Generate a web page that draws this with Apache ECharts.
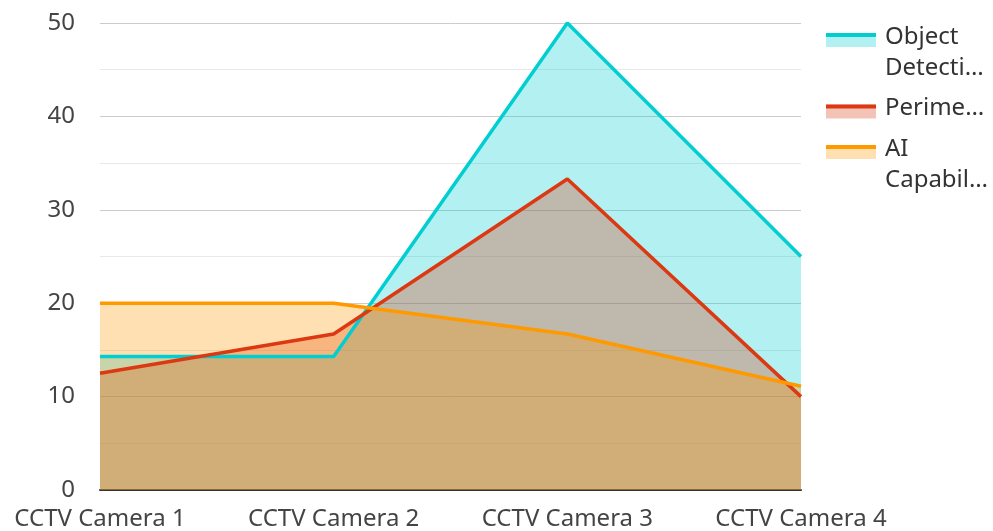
<!DOCTYPE html>
<html>
<head>
<meta charset="utf-8">
<script src="https://cdn.jsdelivr.net/npm/echarts@6/dist/echarts.min.js"></script>
<style>html,body{margin:0;padding:0;background:#fff;}#c{width:993px;height:531px;}</style>
</head>
<body>
<div id="c"></div>
<script>
const categories = ['CCTV Camera 1', 'CCTV Camera 2', 'CCTV Camera 3', 'CCTV Camera 4'];
const seriesNames = ['Object Detection', 'Perimeter Intrusion', 'AI Capabilities'];
const legendLabels = ['Object\nDetecti…', 'Perime…', 'AI\nCapabil…'];
const objectDetection = [14.3, 14.3, 50, 25];
const perimeterIntrusion = [12.5, 16.7, 33.3, 10];
const aiCapabilities = [20, 20, 16.7, 11.1];
const yTicks = [0, 10, 20, 30, 40, 50];

const colors = ['#00ced1', '#dc3912', '#ff9900'];
const fills = ['rgba(0,206,209,0.3)', 'rgba(220,57,18,0.3)', 'rgba(255,153,0,0.3)'];
const values = [objectDetection, perimeterIntrusion, aiCapabilities];
const FONT = 'Noto Sans';

const labelMap = {};
seriesNames.forEach((n, i) => { labelMap[n] = legendLabels[i]; });

// icon paths: box 50x45; two-line items have icon near top, one-line item centred
const fillIcon2 = 'path://M0,3H50V17H0Z M0,0L50,0 M0,45L50,45';
const fillIcon1 = 'path://M0,18.5H50V32.5H0Z M0,0L50,0 M0,45L50,45';
const lineIcon2 = 'path://M0,3H50V7H0Z M0,0L50,0 M0,45L50,45';
const lineIcon1 = 'path://M0,18.5H50V22.5H0Z M0,0L50,0 M0,45L50,45';

function legendBase(textColor) {
  return {
    orient: 'vertical',
    left: 826,
    top: 21.5,
    padding: 0,
    itemGap: 2.5,
    itemWidth: 50,
    itemHeight: 45,
    formatter: name => labelMap[name],
    textStyle: { fontFamily: FONT, fontSize: 24, lineHeight: 31, color: textColor, padding: [0, 0, 0, 4] }
  };
}

const legendA = Object.assign(legendBase('#333333'), {
  data: seriesNames.map((n, i) => ({
    name: n,
    icon: legendLabels[i].indexOf('\n') >= 0 ? fillIcon2 : fillIcon1,
    itemStyle: { color: fills[i], borderWidth: 0 }
  }))
});
const legendB = Object.assign(legendBase('rgba(0,0,0,0)'), {
  data: seriesNames.map((n, i) => ({
    name: n,
    icon: legendLabels[i].indexOf('\n') >= 0 ? lineIcon2 : lineIcon1,
    itemStyle: { color: colors[i], borderWidth: 0 }
  }))
});

const option = {
  animation: false,
  backgroundColor: '#ffffff',
  color: colors,
  grid: { left: 100, right: 192, top: 23, bottom: 41, containLabel: false },
  legend: [legendA, legendB],
  xAxis: {
    type: 'category',
    data: categories,
    boundaryGap: false,
    axisLine: { show: true, lineStyle: { color: '#333333', width: 2 } },
    axisTick: { show: false },
    axisLabel: { fontFamily: FONT, fontSize: 24, color: '#444444', margin: 17 },
    splitLine: { show: false }
  },
  yAxis: {
    type: 'value',
    min: yTicks[0],
    max: yTicks[yTicks.length - 1],
    interval: 10,
    axisLine: { show: false },
    axisTick: { show: false },
    axisLabel: { fontFamily: FONT, fontSize: 24, color: '#444444', margin: 25 },
    splitLine: { show: true, lineStyle: { color: '#cccccc', width: 1 } },
    minorTick: { show: false, splitNumber: 2 },
    minorSplitLine: { show: true, lineStyle: { color: '#e8e8e8', width: 1 } }
  },
  series: seriesNames.map((n, i) => ({
    name: n,
    type: 'line',
    data: values[i],
    showSymbol: false,
    symbol: 'none',
    lineStyle: { width: 3.5, color: colors[i] },
    itemStyle: { color: colors[i] },
    areaStyle: { color: colors[i], opacity: 0.3 },
    emphasis: { disabled: true }
  }))
};

const chart = echarts.init(document.getElementById('c'), null, { renderer: 'canvas' });
chart.setOption(option);
</script>
</body>
</html>
